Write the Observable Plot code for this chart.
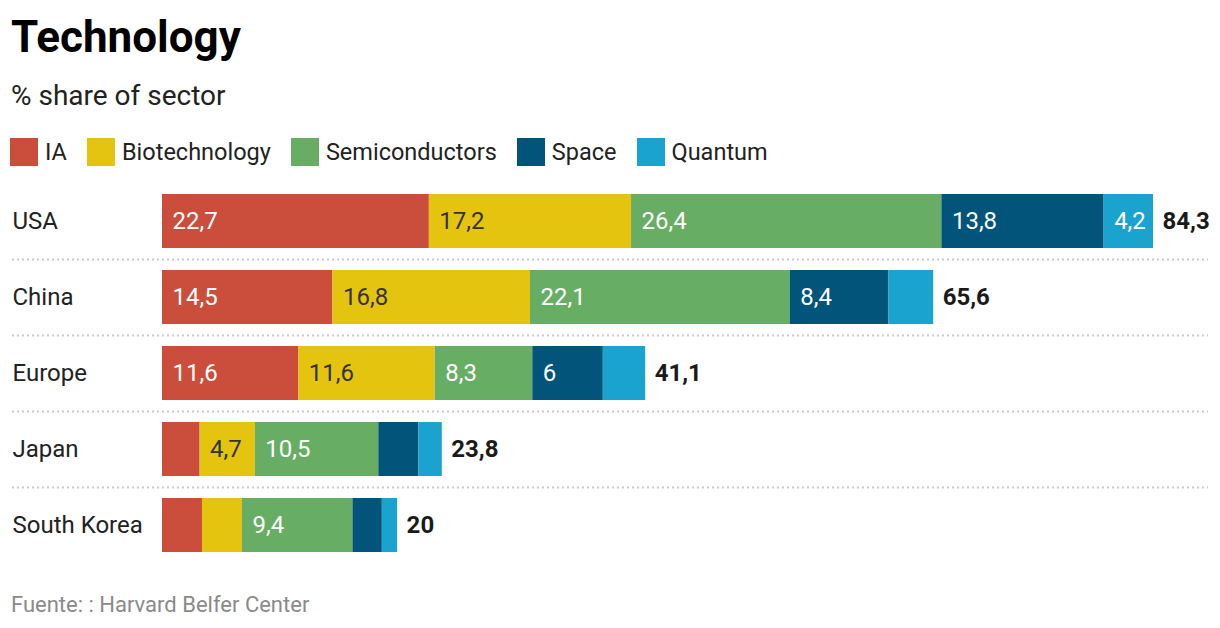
<!DOCTYPE html>
<html>
<head>
<meta charset="utf-8">
<script src="https://cdn.jsdelivr.net/npm/d3@7"></script>
<script src="https://cdn.jsdelivr.net/npm/@observablehq/plot@0.6"></script>
<style>
  html, body { margin: 0; padding: 0; background: #fff; }
  body { width: 1220px; height: 628px; position: relative; font-family: Roboto, sans-serif; color: #111; overflow: hidden; }
  .title { position: absolute; left: 11px; top: 15px; font-size: 44px; font-weight: 700; line-height: 1; color: #000; }
  .subtitle { position: absolute; left: 11px; top: 82px; font-size: 28px; line-height: 1; color: #222; }
  .legend { position: absolute; left: 10px; top: 138px; display: flex; align-items: center; height: 28px; font-size: 23.5px; color: #222; }
  .legend .item { display: flex; align-items: center; margin-right: 20px; }
  .legend .sw { width: 28px; height: 28px; margin-right: 7px; }
  #chart { position: absolute; left: 0; top: 183px; }
  .source { position: absolute; left: 11px; top: 594px; font-size: 22px; line-height: 1; color: #8a8a8a; }
</style>
</head>
<body>
<div class="title">Technology</div>
<div class="subtitle">% share of sector</div>
<div class="legend" id="legend"></div>
<div id="chart"></div>
<div class="source">Fuente: : Harvard Belfer Center</div>
<script>
// Share of each technology sector by region (%)
const countries = ["USA", "China", "Europe", "Japan", "South Korea"];
const sectors = ["IA", "Biotechnology", "Semiconductors", "Space", "Quantum"];
const colors = ["#cb4d3b", "#e5c40f", "#67ae64", "#02547b", "#1aa3cf"];

const ia = [22.7, 14.5, 11.6, 3.2, 3.4];
const biotechnology = [17.2, 16.8, 11.6, 4.7, 3.4];
const semiconductors = [26.4, 22.1, 8.3, 10.5, 9.4];
const space = [13.8, 8.4, 6, 3.4, 2.5];
const quantum = [4.2, 3.8, 3.6, 2.0, 1.3];
const totals = [84.3, 65.6, 41.1, 23.8, 20];

const series = [ia, biotechnology, semiconductors, space, quantum];

// Long table: one row per region × sector, in stacking order
const rows = [];
countries.forEach((country, i) => {
  sectors.forEach((sector, j) => {
    rows.push({country, sector, value: series[j][i]});
  });
});
const totalRows = countries.map((country, i) => ({country, total: totals[i]}));

const fmt = v => String(v).replace(".", ",");
const minLabel = 4;

// Legend
const legend = document.getElementById("legend");
sectors.forEach((s, i) => {
  const item = document.createElement("div");
  item.className = "item";
  const sw = document.createElement("div");
  sw.className = "sw";
  sw.style.background = colors[i];
  const label = document.createElement("span");
  label.textContent = s;
  item.appendChild(sw);
  item.appendChild(label);
  legend.appendChild(item);
});

const labelText = dark => d =>
  d.value >= minLabel && ((d.sector === "Biotechnology") === dark) ? fmt(d.value) : "";

const chart = Plot.plot({
  width: 1220,
  height: 380,
  marginTop: 0,
  marginBottom: 0,
  marginLeft: 12,
  marginRight: 12,
  style: {fontFamily: "Roboto, sans-serif", fontSize: "24px", background: "transparent"},
  x: {domain: [0, d3.max(totals)], range: [162, 1153], axis: null},
  y: {domain: countries, padding: 0, axis: null},
  color: {domain: sectors, range: colors},
  marks: [
    // dotted separators between rows
    Plot.ruleY(countries.slice(0, -1), {
      y: d => d, dy: 38, stroke: "#c9c9c9", strokeWidth: 2, strokeDasharray: "2 3"
    }),
    Plot.barX(rows, {x: "value", y: "country", fill: "sector", insetTop: 11, insetBottom: 11}),
    Plot.text(rows, Plot.stackX1({
      x: "value", y: "country", text: labelText(false),
      textAnchor: "start", dx: 10, fill: "#fff", fontSize: 24
    })),
    Plot.text(rows, Plot.stackX1({
      x: "value", y: "country", text: labelText(true),
      textAnchor: "start", dx: 10, fill: "#333", fontSize: 24
    })),
    Plot.text(totalRows, {
      x: "total", y: "country", text: d => fmt(d.total),
      textAnchor: "start", dx: 9, fontWeight: "bold", fill: "#1a1a1a", fontSize: 24
    }),
    Plot.text(countries, {
      y: d => d, text: d => d, frameAnchor: "left", textAnchor: "start", fill: "#222", fontSize: 24
    })
  ]
});
document.getElementById("chart").appendChild(chart);
</script>
</body>
</html>
